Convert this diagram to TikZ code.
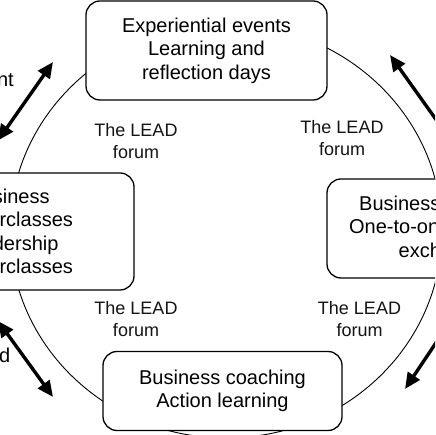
\documentclass[tikz,border=0pt]{standalone}
\usepackage{fontspec}
\setmainfont{Liberation Sans}
\usetikzlibrary{
    arrows.meta,
    shapes.geometric
}
\definecolor{ink}{RGB}{0,0,0}
\definecolor{forumtext}{RGB}{20,20,20}
\tikzset{
    line join=round,
    stagebox/.style={
        rectangle,
        draw=ink,
        line width=1.3pt,
        rounded corners=14pt,
        fill=white,
        align=center,
        inner sep=0pt,
        text=ink,
        font=\fontsize{20}{23.5}\selectfont
    },
    ringline/.style={
        ellipse,
        draw=ink,
        line width=0.9pt,
        inner sep=0pt
    },
    forum/.style={
        align=center,
        text=forumtext,
        font=\fontsize{18}{22}\selectfont
    },
    cutlabel/.style={
        text=ink,
        inner sep=0pt,
        font=\fontsize{20}{23.5}\selectfont
    },
    exchange/.style={
        {Triangle[length=16pt,width=14pt]}-{Triangle[length=16pt,width=14pt]},
        draw=ink,
        line width=3.4pt
    }
}

\begin{document}
\begin{tikzpicture}[x=1pt, y=1pt]

\useasboundingbox (0,0) rectangle (435,435);
\clip (0,0) rectangle (435,435);
\fill[white] (0,0) rectangle (435,435);

% Outer ring
\node[ringline, minimum width=432pt, minimum height=414pt] (ring) at (226,204) {};

% Stages on the ring
\node[stagebox, minimum width=241pt, minimum height=99pt] (events) at (206.5,384.5)
    {Experiential events\\Learning and\\reflection days};
\node[stagebox, minimum width=250pt, minimum height=117pt] (masters) at (9,203.5)
    {Business\\masterclasses\\Leadership\\masterclasses};
\node[stagebox, minimum width=240pt, minimum height=99pt] (mentor) at (447,206.5)
    {Business mentoring\\One-to-one mentoring\\exchanges};
\node[stagebox, minimum width=239pt, minimum height=79pt] (coach) at (222.5,44)
    {Business coaching\\Action learning};

% Forum labels
\node[forum] (forumtl) at (136,294) {The LEAD\\forum};
\node[forum] (forumtr) at (342,297) {The LEAD\\forum};
\node[forum] (forumbl) at (136,116) {The LEAD\\forum};
\node[forum] (forumbr) at (359.5,116) {The LEAD\\forum};

% Outside links
\coordinate (tla) at (-2,294.5);
\coordinate (tlb) at (53,373);
\coordinate (tra) at (390,380);
\coordinate (trb) at (462,279);
\coordinate (bla) at (-2,114);
\coordinate (blb) at (53,38);
\coordinate (bra) at (405,46);
\coordinate (brb) at (462,131);

\draw[exchange] (tla) -- (tlb);
\draw[exchange] (trb) -- (tra);
\draw[exchange] (bla) -- (blb);
\draw[exchange] (brb) -- (bra);

\node[cutlabel, anchor=base east] (tltext) at (14,348) {nt};
\node[cutlabel, anchor=base east] (bltext) at (10.5,72) {d};

\end{tikzpicture}
\end{document}
